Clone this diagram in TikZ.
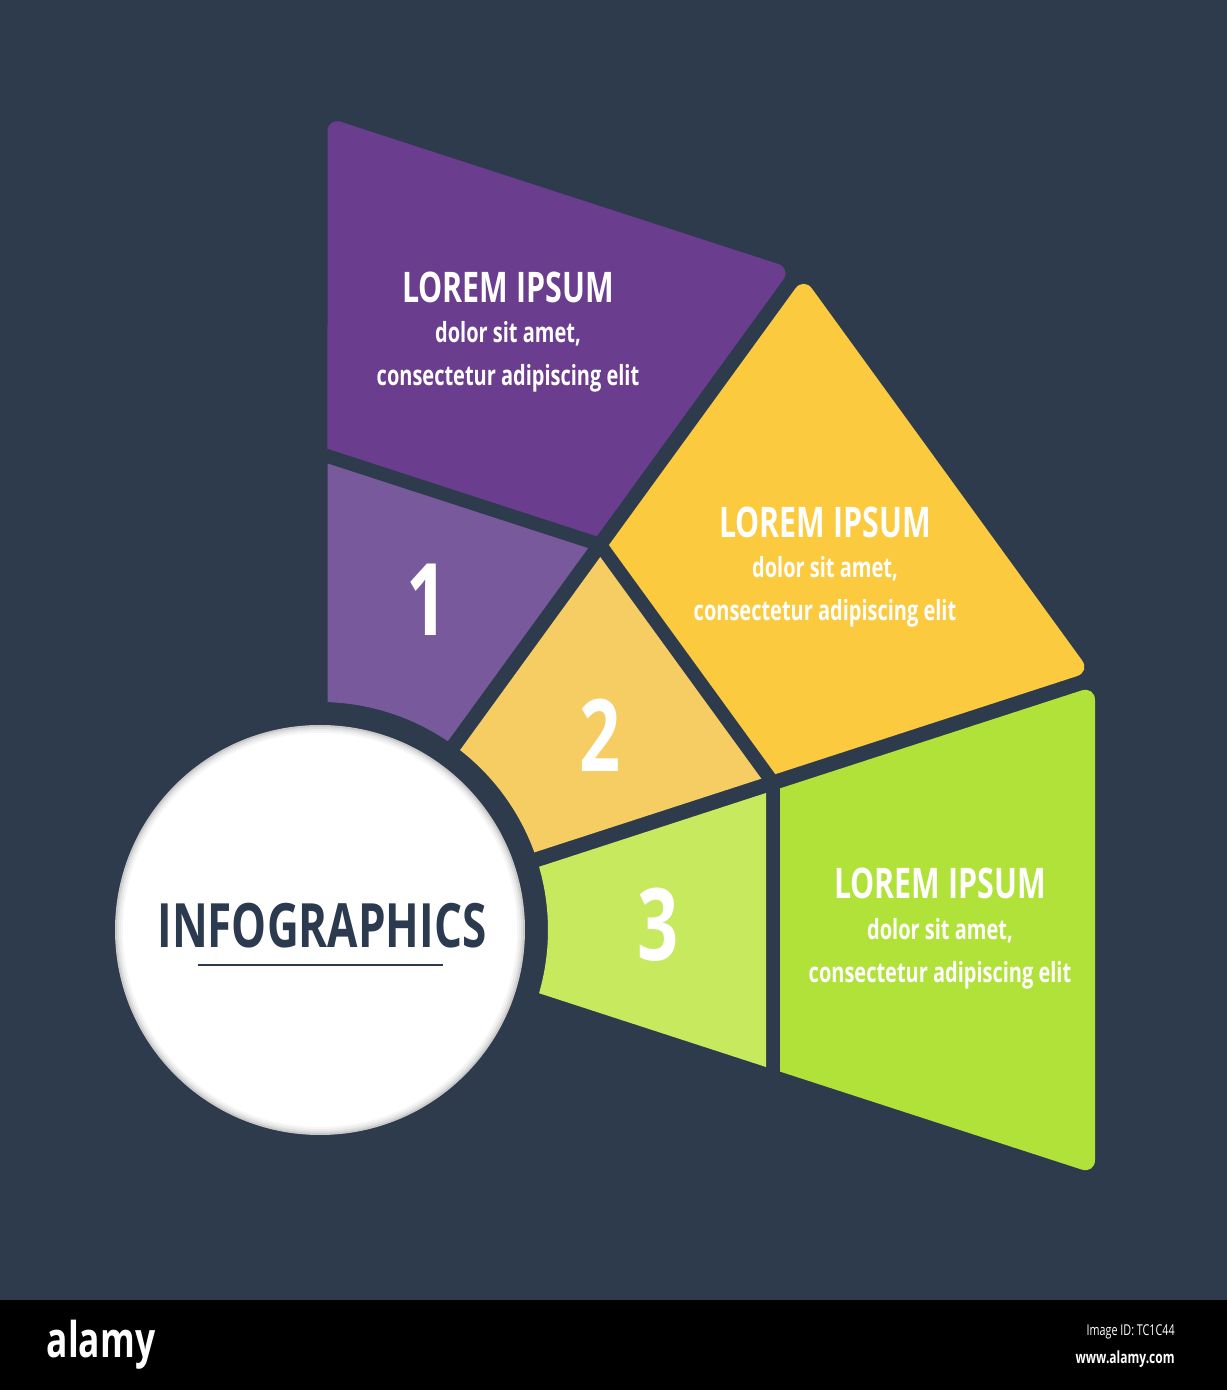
\documentclass[tikz,border=0pt]{standalone}
\usepackage{fontspec}
\setmainfont{Open Sans}
\newfontfamily\condfont[FakeStretch=0.72]{Open Sans}
\usetikzlibrary{positioning}
\definecolor{bg}{HTML}{2D3B4C}
\definecolor{navy}{HTML}{2B3A4E}
\definecolor{purpleO}{HTML}{6B3D8F}
\definecolor{purpleI}{HTML}{785A9C}
\definecolor{yellowO}{HTML}{FBCA3E}
\definecolor{yellowI}{HTML}{F6CD63}
\definecolor{greenO}{HTML}{B1E23A}
\definecolor{greenI}{HTML}{C6E95E}

\begin{document}
\begin{tikzpicture}[x=0.02cm,y=0.02cm,
  head/.style={text=white,inner sep=0pt,font=\condfont\bfseries\fontsize{24}{28}\selectfont},
  body/.style={text=white,inner sep=0pt,align=center,font=\condfont\bfseries\fontsize{15.8}{24.5}\selectfont},
  num/.style={text=white,inner sep=0pt,font=\condfont\bfseries\fontsize{57}{60}\selectfont},
  inner piece/.style={fill=#1},
  outer piece/.style={fill=#1}]

\fill[bg] (0,0) rectangle (1227,1390);
\fill[black] (0,0) rectangle (1227,90);

\begin{scope}[shift={(320,460)},rotate=72]
\fill[inner piece=purpleI] (16.1:228) -- (446,137) -- (446,-137) -- (-16.1:228) arc[start angle=-16.1,end angle=16.1,radius=228] -- cycle;
\fill[outer piece=purpleO] (460,141.6) [rounded corners=8pt] -- (775,243.9) -- (775,-243.9) [sharp corners] -- (460,-141.6) -- cycle;
\end{scope}
\begin{scope}[shift={(320,460)},rotate=36]
\fill[inner piece=yellowI] (16.1:228) -- (446,137) -- (446,-137) -- (-16.1:228) arc[start angle=-16.1,end angle=16.1,radius=228] -- cycle;
\fill[outer piece=yellowO] (460,141.6) [rounded corners=8pt] -- (775,243.9) -- (775,-243.9) [sharp corners] -- (460,-141.6) -- cycle;
\end{scope}
\begin{scope}[shift={(320,460)}]
\fill[inner piece=greenI] (16.1:228) -- (446,137) -- (446,-137) -- (-16.1:228) arc[start angle=-16.1,end angle=16.1,radius=228] -- cycle;
\fill[outer piece=greenO] (460,141.6) [rounded corners=8pt] -- (775,243.9) -- (775,-243.9) [sharp corners] -- (460,-141.6) -- cycle;
\end{scope}

\foreach \r/\g in {205/42,203/27,201/15,199/7,197/0}
  \fill[gray!\g!white] (320,460) circle (\r);

\node at (322,464) [text=navy,font=\condfont\bfseries\fontsize{34.8}{40}\selectfont] (T) {INFOGRAPHICS};
\draw[navy,line width=1.7pt] (198,425) -- (443,425);

\node at (508,1103) [head] (H1) {LOREM IPSUM};
\node at (508,1033) [body] (B1) {dolor sit amet,\\consectetur adipiscing elit};
\node at (825,868) [head] (H2) {LOREM IPSUM};
\node at (825,798) [body] (B2) {dolor sit amet,\\consectetur adipiscing elit};
\node at (940,507) [head] (H3) {LOREM IPSUM};
\node at (940,436) [body] (B3) {dolor sit amet,\\consectetur adipiscing elit};

\node at (427,790) [num] (N1) {1};
\node at (600,655) [num] (N2) {2};
\node at (658,465) [num] (N3) {3};

\node at (101,45) [text=white,font=\condfont\bfseries\fontsize{28}{30}\selectfont] (L) {alamy};
\node at (1175,58) [anchor=east,text=white,inner sep=0pt,font=\condfont\fontsize{8.5}{10}\selectfont] (ID) {Image ID: TC1C44};
\node at (1175,31) [anchor=east,text=white,inner sep=0pt,font=\condfont\bfseries\fontsize{9.5}{11}\selectfont] (W) {www.alamy.com};

\end{tikzpicture}
\end{document}
